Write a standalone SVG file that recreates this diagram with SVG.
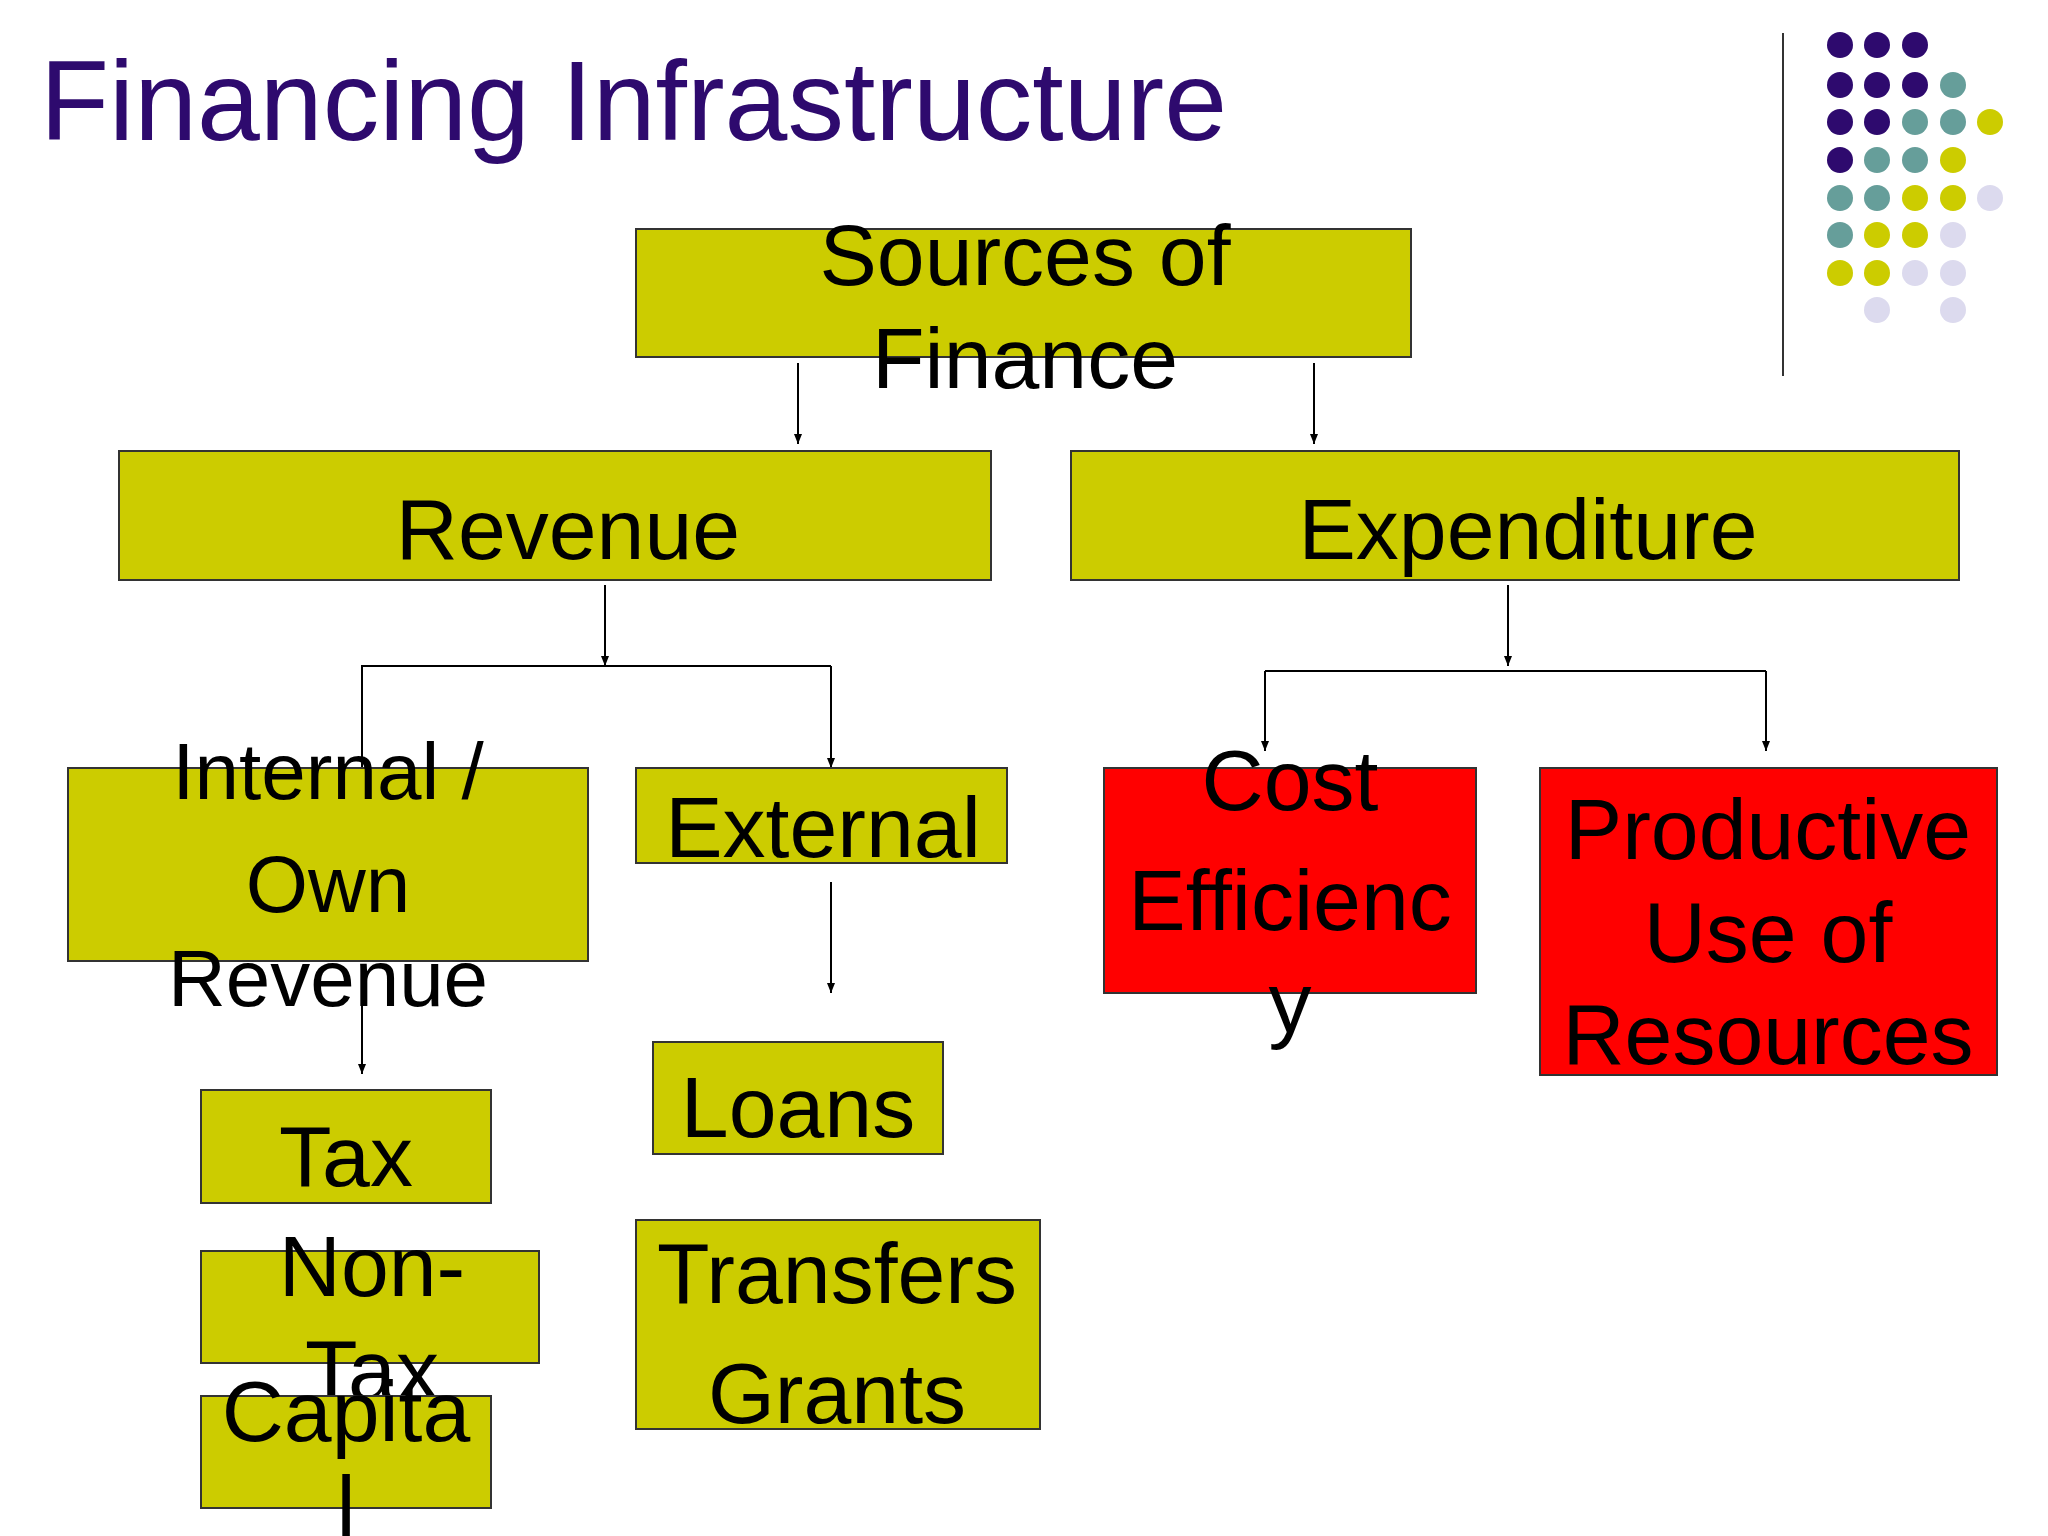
<svg xmlns="http://www.w3.org/2000/svg" width="2048" height="1536" viewBox="0 0 2048 1536">
<defs><marker id="a" markerWidth="12" markerHeight="10" refX="10" refY="5" orient="auto" markerUnits="userSpaceOnUse"><path d="M0,1 L10,5 L0,9 Z" fill="#000"/></marker></defs>
<style>.y{fill:#cccc00;stroke:#333;stroke-width:2}.r{fill:#ff0000;stroke:#333;stroke-width:2}text{font-family:"Liberation Sans",Arial,sans-serif;font-size:86px;fill:#000;text-anchor:middle}.c line,.c path{stroke:#000;stroke-width:2;fill:none}</style>
<rect width="2048" height="1536" fill="#fff"/>
<text x="40" y="140" style="font-size:113px;fill:#2e0a6e;text-anchor:start">Financing Infrastructure</text>
<line x1="1783" y1="33" x2="1783" y2="376" stroke="#333" stroke-width="2"/>
<g id="dots">
<g fill="#2e0a6e"><circle cx="1840" cy="45" r="13"/><circle cx="1877" cy="45" r="13"/><circle cx="1915" cy="45" r="13"/><circle cx="1840" cy="85" r="13"/><circle cx="1877" cy="85" r="13"/><circle cx="1915" cy="85" r="13"/><circle cx="1840" cy="122" r="13"/><circle cx="1877" cy="122" r="13"/><circle cx="1840" cy="160" r="13"/></g>
<g fill="#669e9a"><circle cx="1953" cy="85" r="13"/><circle cx="1915" cy="122" r="13"/><circle cx="1953" cy="122" r="13"/><circle cx="1877" cy="160" r="13"/><circle cx="1915" cy="160" r="13"/><circle cx="1840" cy="198" r="13"/><circle cx="1877" cy="198" r="13"/><circle cx="1840" cy="235" r="13"/></g>
<g fill="#cccc00"><circle cx="1990" cy="122" r="13"/><circle cx="1953" cy="160" r="13"/><circle cx="1915" cy="198" r="13"/><circle cx="1953" cy="198" r="13"/><circle cx="1877" cy="235" r="13"/><circle cx="1915" cy="235" r="13"/><circle cx="1840" cy="273" r="13"/><circle cx="1877" cy="273" r="13"/></g>
<g fill="#dcdaee"><circle cx="1990" cy="198" r="13"/><circle cx="1953" cy="235" r="13"/><circle cx="1915" cy="273" r="13"/><circle cx="1953" cy="273" r="13"/><circle cx="1877" cy="310" r="13"/><circle cx="1953" cy="310" r="13"/></g>
</g>
<g class="c" id="connectors">
<line x1="798" y1="363" x2="798" y2="444" marker-end="url(#a)"/>
<line x1="1314" y1="363" x2="1314" y2="444" marker-end="url(#a)"/>
<line x1="605" y1="585" x2="605" y2="666" marker-end="url(#a)"/>
<path d="M362,768 V666 H831"/>
<line x1="831" y1="666" x2="831" y2="768" marker-end="url(#a)"/>
<line x1="831" y1="882" x2="831" y2="993" marker-end="url(#a)"/>
<line x1="362" y1="1006" x2="362" y2="1074" marker-end="url(#a)"/>
<line x1="1508" y1="585" x2="1508" y2="666" marker-end="url(#a)"/>
<path d="M1265,671 H1766"/>
<line x1="1766" y1="671" x2="1766" y2="751" marker-end="url(#a)"/>
<line x1="1265" y1="671" x2="1265" y2="751" marker-end="url(#a)"/>
</g>
<g id="sources"><rect class="y" x="636" y="229" width="775" height="128"/><text x="1025" y="285">Sources of</text><text x="1025" y="388">Finance</text></g>
<g id="revenue"><rect class="y" x="119" y="451" width="872" height="129"/><text x="568" y="559">Revenue</text></g>
<g id="expenditure"><rect class="y" x="1071" y="451" width="888" height="129"/><text x="1528" y="559">Expenditure</text></g>
<g id="internal" style="font-size:80px"><rect class="y" x="68" y="768" width="520" height="193"/><text x="328" y="799" style="font-size:80px">Internal /</text><text x="328" y="912" style="font-size:80px">Own</text><text x="328" y="1006" style="font-size:80px">Revenue</text></g>
<g id="external"><rect class="y" x="636" y="768" width="371" height="95"/><text x="823" y="857">External</text></g>
<g id="tax"><rect class="y" x="201" y="1090" width="290" height="113"/><text x="346" y="1186">Tax</text></g>
<g id="nontax"><rect class="y" x="201" y="1251" width="338" height="112"/><text x="372" y="1296">Non-</text><text x="372" y="1400">Tax</text></g>
<g id="capital"><rect class="y" x="201" y="1396" width="290" height="112"/><text x="346" y="1441">Capita</text><text x="346" y="1536">l</text></g>
<g id="loans"><rect class="y" x="653" y="1042" width="290" height="112"/><text x="798" y="1137">Loans</text></g>
<g id="transfers"><rect class="y" x="636" y="1220" width="404" height="209"/><text x="837" y="1303">Transfers</text><text x="837" y="1423">Grants</text></g>
<g id="cost"><rect class="r" x="1104" y="768" width="372" height="225"/><text x="1290" y="810">Cost</text><text x="1290" y="930">Efficienc</text><text x="1290" y="1032">y</text></g>
<g id="productive"><rect class="r" x="1540" y="768" width="457" height="307"/><text x="1768" y="859">Productive</text><text x="1768" y="962">Use of</text><text x="1768" y="1064">Resources</text></g>
</svg>
